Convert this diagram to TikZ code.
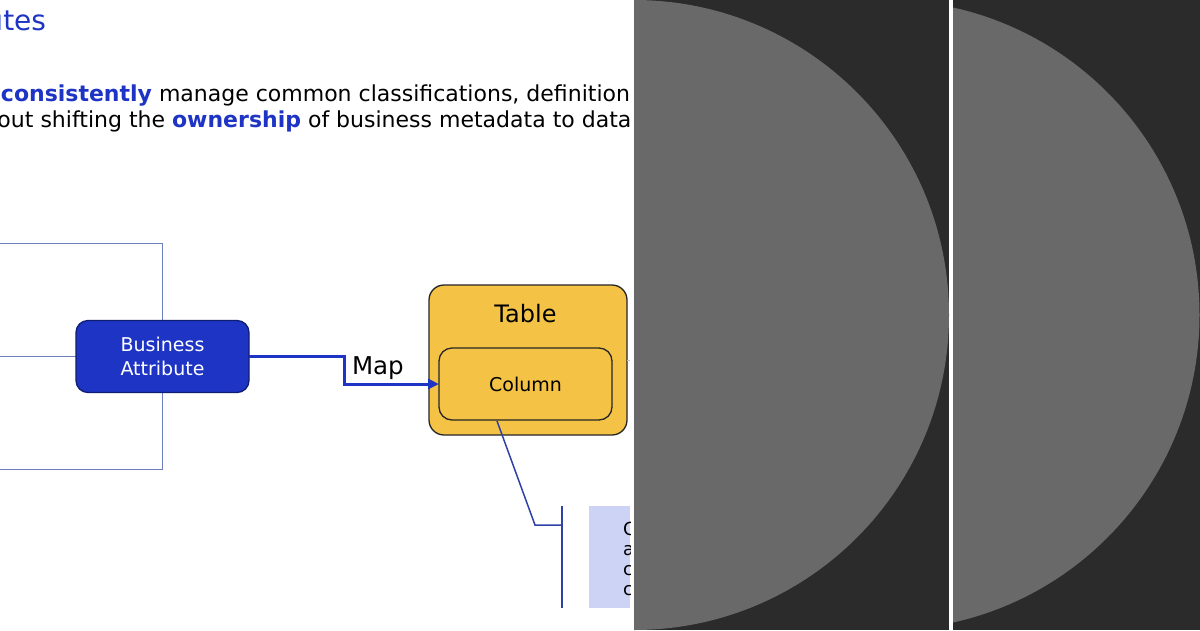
\documentclass[tikz,border=0pt]{standalone}
\usepackage{fontspec}
\setmainfont{DejaVu Sans}
\usetikzlibrary{arrows.meta}
\definecolor{brandblue}{HTML}{1E34C4}
\definecolor{navy}{HTML}{0F1E70}
\definecolor{amber}{HTML}{F4C245}
\definecolor{paleblue}{HTML}{CDD3F5}
\definecolor{thinblue}{HTML}{6E7FC0}
\definecolor{calloutblue}{HTML}{2F42A6}
\definecolor{panel}{HTML}{2B2B2B}
\definecolor{disc}{HTML}{696969}
\tikzset{
  txt/.style={inner sep=0pt,outer sep=0pt,anchor=base west},
  ctxt/.style={inner sep=0pt,outer sep=0pt,anchor=base},
  bluebox/.style={draw=navy,line width=1.3pt,fill=brandblue,rounded corners=12pt,minimum width=173pt,minimum height=72pt,inner sep=0pt,outer sep=0pt,text=white,align=center,font=\fontsize{19}{23.5}\selectfont},
  tablebox/.style={draw=black!85,line width=1.3pt,fill=amber,rounded corners=15pt,minimum width=198pt,minimum height=150pt,inner sep=0pt,outer sep=0pt},
  colbox/.style={draw=black!85,line width=1.3pt,fill=amber,rounded corners=13pt,minimum width=173pt,minimum height=72pt,inner sep=0pt,outer sep=0pt,font=\fontsize{19}{23}\selectfont},
  thinline/.style={draw=thinblue,line width=1pt},
  mapline/.style={draw=brandblue,line width=3pt,-{Triangle[length=11pt,width=10pt]}},
  calloutline/.style={draw=calloutblue,line width=1.5pt},
}
\begin{document}
\begin{tikzpicture}[x=1pt,y=-1pt]
\useasboundingbox (0,0) rectangle (1200,630);
\fill[white] (0,0) rectangle (1200,630);
\begin{scope}
\clip (0,0) rectangle (630,630);
\node[txt,text=brandblue,font=\fontsize{28}{32}\selectfont] (title) at (-14.5,30) {utes};
\node[txt,font=\fontsize{22}{26}\selectfont] (line1) at (1,101) {\textcolor{brandblue}{\textbf{consistently}} manage common classifications, definition};
\node[txt,font=\fontsize{22}{26}\selectfont] (line2) at (-2.5,127) {out shifting the \textcolor{brandblue}{\textbf{ownership}} of business metadata to data};
\coordinate (topleft) at (0,243.5);
\coordinate (midleft) at (0,356.5);
\coordinate (botleft) at (0,469);
\coordinate (mapbend) at (344,370);
\coordinate (calloutstart) at (497,421);
\coordinate (calloutknee) at (535,525);
\coordinate (bartop) at (562,506);
\coordinate (barbot) at (562,608);
\coordinate (barmid) at (562,525);
\coordinate (ticka) at (627,360);
\coordinate (tickb) at (630,360);
\fill[paleblue] (589,506) rectangle (630,608);
\foreach \t/\b in {C/535,a/555,c/575,c/595}{\node[txt,font=\fontsize{18}{20}\selectfont] at (623,\b) {\t};}
\draw[thinline] (topleft) -| (162.5,320);
\draw[thinline] (botleft) -| (162.5,392);
\draw[thinline] (midleft) -- (76,356.5);
\node[bluebox] (ba) at (162.5,356.5) {Business\\Attribute};
\node[tablebox] (tbl) at (528,360) {};
\draw[line width=.8pt,draw=black!25] (ticka) -- (tickb);
\node[ctxt,font=\fontsize{24}{28}\selectfont] (tbllabel) at (525.5,322) {Table};
\node[colbox] (col) at (525.5,384) {Column};
\draw[mapline] (ba.east) -| (mapbend) |- (col.west);
\node[txt,font=\fontsize{24.5}{28}\selectfont] (maplabel) at (352,374) {Map};
\draw[calloutline] (calloutstart) -- (calloutknee) -- (barmid);
\draw[calloutline] (bartop) -- (barbot);
\end{scope}
\fill[panel] (634,0) rectangle (949,630);
\fill[panel] (953,0) rectangle (1200,630);
\begin{scope}
\clip (634,0) rectangle (949,630);
\fill[disc] (634,315) circle (315);
\end{scope}
\begin{scope}
\clip (953,0) rectangle (1200,630);
\fill[disc] (884.5,315) circle (315);
\end{scope}
\end{tikzpicture}
\end{document}
